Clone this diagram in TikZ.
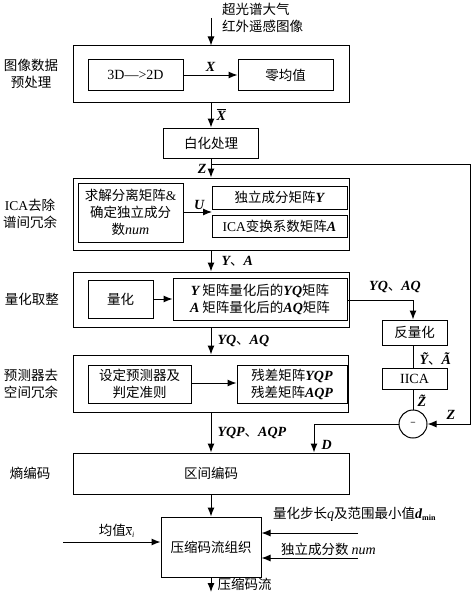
\documentclass[tikz,border=0pt]{standalone}
\usepackage{fontspec}
\setmainfont{Noto Sans CJK SC}
\newfontfamily\tm{Liberation Serif}
\usetikzlibrary{arrows.meta}
\newcommand\bi[1]{{\tm\fontsize{14}{16}\selectfont\bfseries\itshape #1}}
\newcommand\iti[1]{{\tm\fontsize{14}{16}\selectfont\itshape #1}}
\newcommand\ovl[1]{\vbox{\hrule height 1pt\kern1.5pt\hbox{#1}}}
\newcommand\tld[1]{{\tm\fontsize{14}{16}\selectfont\bfseries\itshape \~{#1}}}
\begin{document}
\begin{tikzpicture}[x=1pt,y=-1pt,
  box/.style={draw, line width=1pt, inner sep=1pt, align=center, font=\fontsize{13.5}{17}\selectfont},
  lbl/.style={inner sep=0pt, align=center, font=\fontsize{13.5}{17}\selectfont},
  vl/.style={inner sep=0pt, font=\fontsize{13.5}{16}\selectfont},
  ln/.style={line width=1pt},
  arr/.style={line width=1pt, -{Latex[length=9pt,width=7pt]}}]
\useasboundingbox (0,0) rectangle (474,594);
% input
\node[lbl, anchor=west, align=left] (intext) at (222,18) {超光谱大气\\红外遥感图像};
\coordinate (in) at (211,18);
% preprocessing
\node[box, minimum width=276, minimum height=56] (pre) at (211,74) {};
\node[lbl] (prel) at (31,74) {图像数据\\预处理};
\node[box, minimum width=95, minimum height=30] (d3) at (135.5,75) {\tm\fontsize{14}{16}\selectfont 3D—>2D};
\node[box, minimum width=95, minimum height=30] (zm) at (285.5,75) {零均值};
\draw[arr] (d3) -- node[vl, above=3pt] {\bi{X}} (zm);
\draw[arr] (in) -- (pre.north);
% whitening
\node[box, minimum width=95, minimum height=30] (wh) at (211,143) {白化处理};
\draw[arr] (pre.south) -- node[vl, right=5pt] {\ovl{\bi{X}}} (wh.north);
% ICA
\node[box, minimum width=276, minimum height=72] (ica) at (211,214) {};
\node[lbl] (ical) at (30,214) {{\tm ICA}去除\\谱间冗余};
\node[box, minimum width=105, minimum height=59] (sol) at (130.5,212.5) {求解分离矩阵{\tm\&}\\确定独立成分\\数\iti{num}};
\node[box, minimum width=135, minimum height=23] (yb) at (279.5,197.5) {独立成分矩阵\bi{Y}};
\node[box, minimum width=135, minimum height=22] (ab) at (279.5,226) {{\tm ICA}变换系数矩阵\bi{A}};
\coordinate (ua) at (212,212);
\draw[arr] (sol.east |- ua) -- node[vl, above=2pt, pos=0.55] {\bi{U}} (ua);
\coordinate (zsplit) at (211,164);
\draw[arr] (wh.south) -- node[vl, left=4pt, pos=0.55] {\bi{Z}} (ica.north);
% quantization
\node[box, minimum width=276, minimum height=55] (qnt) at (211,299.5) {};
\node[lbl] (qntl) at (32,299.5) {量化取整};
\node[box, minimum width=65, minimum height=38] (ql) at (120.5,299) {量化};
\node[box, minimum width=174, minimum height=42, inner sep=0pt] (qr) at (260,299) {\bi{Y} 矩阵量化后的\bi{YQ}矩阵\\\bi{A} 矩阵量化后的\bi{AQ}矩阵};
\draw[arr] (ql) -- (qr);
\draw[arr] (ica.south) -- node[vl, right=10pt] {\bi{Y}、\bi{A}} (qnt.north);
% prediction
\node[box, minimum width=275, minimum height=57] (pred) at (210.5,383.5) {};
\node[lbl] (predl) at (31,383.5) {预测器去\\空间冗余};
\node[box, minimum width=103, minimum height=38] (pl) at (139.5,384) {设定预测器及\\判定准则};
\node[box, minimum width=110, minimum height=38] (pr) at (292,384) {残差矩阵\bi{YQP}\\残差矩阵\bi{AQP}};
\draw[arr] (pl.east |- 0,383) -- (pr.west |- 0,383);
\draw[arr] (qnt.south -| 211,0) -- node[vl, right=6pt] {\bi{YQ}、\bi{AQ}} (pred.north -| 211,0);
% entropy coding
\node[box, minimum width=276, minimum height=41] (ent) at (211,473.5) {区间编码};
\node[lbl] (entl) at (30,473.5) {熵编码};
\draw[arr] (pred.south -| 211,0) -- node[vl, right=6pt] {\bi{YQP}、\bi{AQP}} (ent.north -| 211,0);
% decoder branch
\node[box, minimum width=65, minimum height=25] (dq) at (414.5,332.5) {反量化};
\node[box, minimum width=65, minimum height=21] (ii) at (414.5,378.5) {\tm\fontsize{14}{16}\selectfont IICA};
\node[draw, circle, line width=1pt, minimum size=28, inner sep=0pt, font=\fontsize{10}{12}\selectfont] (sub) at (413,424) {--};
\coordinate (qcorner) at (413,300);
\draw[arr] (qr.east |- qcorner) -- (qcorner) -- node[vl, pos=0, above=7pt, xshift=-18pt] {\bi{YQ}、\bi{AQ}} (dq.north -| qcorner);
\draw[ln] (dq.south -| sub) -- node[vl, right=6pt, pos=0.6] {\tld{Y}、\tld{A}} (ii.north -| sub);
\draw[ln] (ii.south -| sub) -- node[vl, right=4pt, pos=0.55] {\tld{Z}} (sub.north);
\coordinate (zright) at (470,164);
\draw[arr] (zsplit) -- (zright) -- (zright |- sub) -- node[vl, above=4pt, pos=0.45] {\bi{Z}} (sub.east);
\coordinate (dcorner) at (314,424);
\draw[arr] (sub.west) -- (dcorner) -- node[vl, right=7pt, pos=0.75] {\bi{D}} (dcorner |- ent.north);
% stream organisation
\node[box, minimum width=100, minimum height=60] (org) at (211,547) {压缩码流组织};
\draw[arr] (ent.south) -- (org.north);
\coordinate (meanin) at (63,542);
\draw[arr] (meanin) -- node[vl, above=4pt, pos=0.55] {均值\ovl{\iti{x}}\raisebox{-2pt}{\tm\fontsize{8}{8}\selectfont\itshape i}} (org.west |- meanin);
\coordinate (qin) at (358,533);
\coordinate (nin) at (358,558);
\draw[arr] (qin) -- (org.east |- qin);
\draw[arr] (nin) -- (org.east |- nin);
\node[vl, anchor=west] (qtext) at (273,514) {量化步长\iti{q}及范围最小值\bi{d}\raisebox{-2pt}{\tm\fontsize{8}{8}\selectfont\bfseries min}};
\node[vl, anchor=west] (ntext) at (281,549) {独立成分数 \iti{num}};
\coordinate (outc) at (211,592);
\draw[arr] (org.south) -- node[vl, right=6pt] {压缩码流} (outc);
\end{tikzpicture}
\end{document}
